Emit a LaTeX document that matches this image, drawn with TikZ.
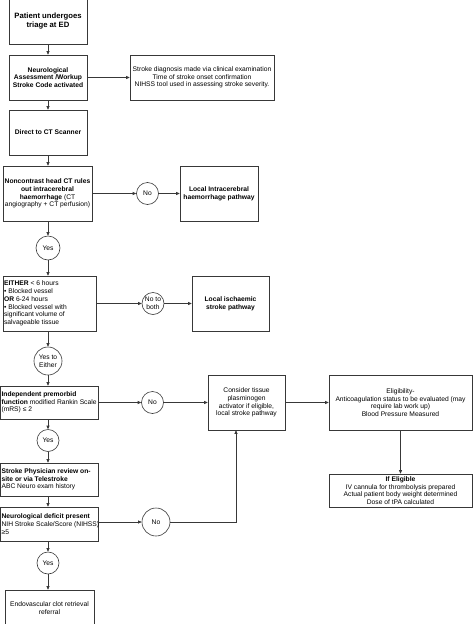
\documentclass[tikz,border=0pt]{standalone}
\usepackage{fontspec}
\setmainfont{Liberation Sans}
\usetikzlibrary{arrows.meta}

\begin{document}
\begin{tikzpicture}[x=1pt, y=-1pt]
  \def\linecol{black!78}
  \tikzstyle{box} = [rectangle, draw=\linecol, line width=0.6pt, inner sep=1pt, align=center, font=\fontsize{6.7}{7.7}\selectfont]
  \tikzstyle{lefttext} = [anchor=west, inner xsep=1.2pt, align=left, font=\fontsize{6.7}{7.7}\selectfont]
  \tikzstyle{decision} = [circle, draw=\linecol, line width=0.6pt, inner sep=0pt, minimum size=22pt, align=center, font=\fontsize{6.7}{7.7}\selectfont]
  \tikzstyle{arrow} = [draw=\linecol, line width=0.6pt, -{Triangle[length=3.5pt, width=3pt]}]

  \useasboundingbox (0, 0) rectangle (474, 624);

  \node[box, minimum width=78pt, minimum height=45pt, font=\bfseries\fontsize{7.7}{9}\selectfont] (triage) at (48, 21.5) {Patient undergoes\\triage at ED};
  \node[box, minimum width=78pt, minimum height=45pt] (assess) at (48, 77.5) {\textbf{Neurological}\\\textbf{Assessment /Workup}\\\textbf{Stroke Code activated}};
  \node[box, minimum width=144pt, minimum height=45pt] (diag) at (202, 77.5) {Stroke diagnosis made via clinical examination\\Time of stroke onset confirmation\\NIHSS tool used in assessing stroke severity.};
  \node[box, minimum width=78pt, minimum height=45pt] (ctscan) at (48, 132.5) {\textbf{Direct to CT Scanner}};

  \node[box, minimum width=89pt, minimum height=55pt] (nonctr) at (47.5, 193.5) {\textbf{Noncontrast head CT rules}\\\textbf{out intracerebral}\\\textbf{haemorrhage} (CT\\angiography + CT perfusion)};
  \node[decision] (no1) at (147.5, 193.5) {No};
  \node[box, minimum width=78pt, minimum height=55pt] (ich) at (219, 193.5) {\textbf{Local Intracerebral}\\\textbf{haemorrhage pathway}};
  \node[decision, minimum size=24pt] (yes1) at (48, 248) {Yes};

  \node[box, minimum width=93pt, minimum height=55pt] (either) at (49.5, 303.5) {};
  \node[lefttext] at (either.west) {\textbf{EITHER} < 6 hours\\• Blocked vessel\\\textbf{OR} 6-24 hours\\• Blocked vessel with\\significant volume of\\salvageable tissue};
  \node[decision] (noboth) at (153, 303.5) {No to\\both};
  \node[box, minimum width=77pt, minimum height=55pt] (ischaemic) at (230.5, 303.5) {\textbf{Local ischaemic}\\\textbf{stroke pathway}};
  \node[decision, minimum size=28pt] (yeseither) at (48, 361) {Yes to\\Either};

  \node[box, minimum width=97.5pt, minimum height=33pt] (premorbid) at (49.25, 402.5) {};
  \node[lefttext] at (premorbid.west) {\textbf{Independent premorbid}\\\textbf{function} modified Rankin Scale\\(mRS) ≤ 2};
  \node[decision] (no2) at (152.5, 402.5) {No};
  \node[box, minimum width=77pt, minimum height=55pt] (tpa) at (246.5, 402.5) {Consider tissue\\plasminogen\\activator if eligible,\\local stroke pathway};
  \node[box, minimum width=143pt, minimum height=55pt] (elig) at (400.5, 402.5) {Eligibility-\\Anticoagulation status to be evaluated (may\\require lab work up)\\Blood Pressure Measured};
  \node[box, minimum width=143pt, minimum height=33pt] (ifelig) at (400.5, 490.5) {\textbf{If Eligible}\\IV cannula for thrombolysis prepared\\Actual patient body weight determined\\Dose of tPA  calculated};
  \node[decision] (yes2) at (48, 440.5) {Yes};

  \node[box, minimum width=97.5pt, minimum height=33pt] (physician) at (49.25, 479.5) {};
  \node[lefttext] at (physician.west) {\textbf{Stroke Physician review on-}\\\textbf{site or via Telestroke}\\ABC Neuro exam history};
  \node[box, minimum width=97.5pt, minimum height=34pt] (deficit) at (49.25, 524) {};
  \node[lefttext] at (deficit.west) {\textbf{Neurological deficit present}\\NIH Stroke Scale/Score (NIHSS)\\≥5};
  \node[decision, minimum size=28pt] (no3) at (156, 522) {No};
  \coordinate (bend) at (236, 522);
  \node[decision] (yes3) at (48, 563) {Yes};
  \node[box, minimum width=89pt, minimum height=36pt] (endo) at (49.5, 608) {Endovascular clot retrieval\\referral};

  \draw[arrow] (triage) -- (assess);
  \draw[arrow] (assess) -- (diag);
  \draw[arrow] (assess) -- (ctscan);
  \draw[arrow] (ctscan) -- (ctscan |- nonctr.north);
  \draw[arrow] (nonctr) -- (no1);
  \draw[arrow] (no1) -- (ich);
  \draw[arrow] (nonctr.south -| yes1) -- (yes1);
  \draw[arrow] (yes1) -- (yes1 |- either.north);
  \draw[arrow] (either) -- (noboth);
  \draw[arrow] (noboth) -- (ischaemic);
  \draw[arrow] (either.south -| yeseither) -- (yeseither);
  \draw[arrow] (yeseither) -- (yeseither |- premorbid.north);
  \draw[arrow] (premorbid) -- (no2);
  \draw[arrow] (no2) -- (tpa);
  \draw[arrow] (tpa) -- (elig);
  \draw[arrow] (elig) -- (ifelig);
  \draw[arrow] (premorbid.south -| yes2) -- (yes2);
  \draw[arrow] (yes2) -- (yes2 |- physician.north);
  \draw[arrow] (physician.south -| yes2) -- (yes2 |- deficit.north);
  \draw[arrow] (deficit.east |- no3) -- (no3);
  \draw[arrow] (no3) -- (bend) -- (bend |- tpa.south);
  \draw[arrow] (deficit.south -| yes3) -- (yes3);
  \draw[arrow] (yes3) -- (yes3 |- endo.north);
\end{tikzpicture}
\end{document}
